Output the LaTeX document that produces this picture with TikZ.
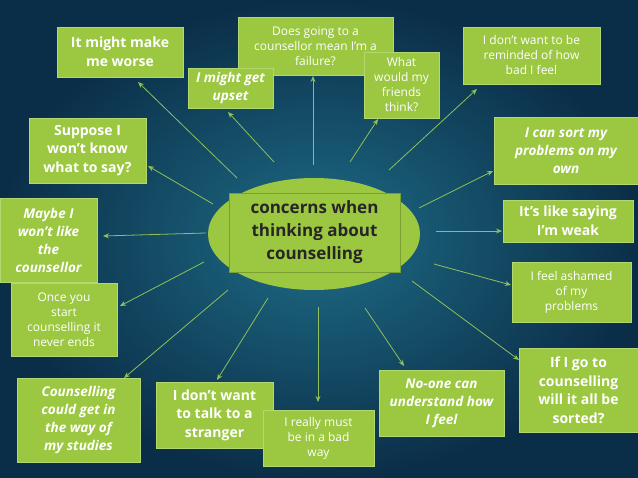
\documentclass[tikz,border=0pt]{standalone}
\usepackage{fontspec}
\setmainfont{Open Sans}
\usetikzlibrary{calc,shapes.geometric,arrows.meta}
\definecolor{bgin}{HTML}{1E6C86}
\definecolor{bgout}{HTML}{0B2E48}
\definecolor{boxg}{HTML}{9BC741}
\definecolor{boxe}{HTML}{B4D870}
\definecolor{ln}{HTML}{8FC05A}
\tikzset{
  box/.style={fill=boxg,draw=boxe,line width=0.6pt,inner sep=0pt},
  txt/.style={align=center,text=white,inner sep=0pt},
  conn/.style={draw=ln,line width=0.8pt,-{Stealth[length=6pt,width=5pt]}}
}
\newcommand{\bx}[7]{%
  \node[box,minimum width=#4-#2,minimum height=#5-#3] (#1) at ({(#2+#4)/2},{(#3+#5)/2}) {};
  \node[txt,font=#6] (t#1) at (#1) {#7};}
\newcommand{\nb}{\fontsize{12}{15}\selectfont}
\newcommand{\bb}{\fontsize{14}{18.5}\selectfont\bfseries}
\newcommand{\bi}{\fontsize{13.5}{18}\selectfont\bfseries\itshape}
\begin{document}
\begin{tikzpicture}[x=1pt,y=-1pt]
\shade[inner color=bgin,outer color=bgout] (0,0) rectangle (638,478);
\useasboundingbox (0,0) rectangle (638,478);
% center
\node[ellipse,fill=boxg,minimum width=212,minimum height=112,inner sep=0pt] (c) at (314,234) {};
\node[draw=boxg!80!black,fill=boxg,minimum width=171,minimum height=79,inner sep=0pt] (cr) at (314.5,232.5) {};
\node[align=center,text=black!85,font=\fontsize{17}{23}\selectfont\bfseries] (ct) at (cr) {concerns when\\thinking about\\counselling};
% boxes
\bx{b1}{57}{27}{183}{77}{\bb}{It might make\\me worse}
\bx{b2}{238}{17}{393}{75}{\nb}{Does going to a\\counsellor mean I’m a\\failure?}
\bx{b3}{188}{68}{273}{108}{\bi}{I might get\\upset}
\bx{b4}{364}{52}{439}{118}{\nb}{What\\would my\\friends\\think?}
\bx{b5}{463}{27}{600}{84}{\nb}{I don’t want to be\\reminded of how\\bad I feel}
\bx{b6}{494}{117}{638}{184}{\bi}{I can sort my\\problems on my\\own}
\bx{b7}{29}{118}{146}{183}{\bb}{Suppose I\\won’t know\\what to say?}
\bx{b9}{0}{198}{97}{282}{\bi}{Maybe I\\won’t like\\the\\counsellor}
\bx{b10}{503}{200}{633}{242}{\bb}{It’s like saying\\I’m weak}
\bx{b11}{512}{262}{631}{322}{\nb}{I feel ashamed\\of my\\problems}
\bx{b12}{11}{283}{117}{356}{\nb}{Once you\\start\\counselling it\\never ends}
\bx{b13}{519}{348}{638}{432}{\bb}{If I go to\\counselling\\will it all be\\sorted?}
\bx{b14}{17}{378}{140}{462}{\bi}{Counselling\\could get in\\the way of\\my studies}
\bx{b15}{156}{382}{273}{448}{\bb}{I don’t want\\to talk to a\\stranger}
\bx{b16}{263}{410}{374}{466}{\nb}{I really must\\be in a bad\\way}
\bx{b17}{379}{370}{504}{436}{\bi}{No-one can\\understand how\\I feel}
% connectors
\foreach \s/\e/\t in {237/178/b1, 274/162/b3, 313/165/b2, 350/162/b4, 389/170/b5, 419/208/b6,
  213/204/b7, 206/233/b9, 436/231/b10, 434/264/b11, 204/262/b12, 412/281/b13,
  228/290/b14, 268/298/b15, 318/307/b16, 365/308/b17}{
  \coordinate (s\t) at (\s,\e);}
\coordinate (e1) at (138,82); \coordinate (e3) at (228,112); \coordinate (e2) at (313,76);
\coordinate (e4) at (378,119); \coordinate (e5) at (477,89); \coordinate (e6) at (493,171);
\coordinate (e7) at (148,166); \coordinate (e9) at (103,236); \coordinate (e10) at (502,231);
\coordinate (e11) at (511,285); \coordinate (e12) at (120,306); \coordinate (e13) at (519,360);
\coordinate (e14) at (124,378); \coordinate (e15) at (217,380); \coordinate (e16) at (318,402);
\coordinate (e17) at (404,366);
\foreach \i in {1,2,3,4,5,6,7,9,10,11,12,13,14,15,16,17}
  \draw[conn] (sb\i) -- (e\i);
\end{tikzpicture}
\end{document}
